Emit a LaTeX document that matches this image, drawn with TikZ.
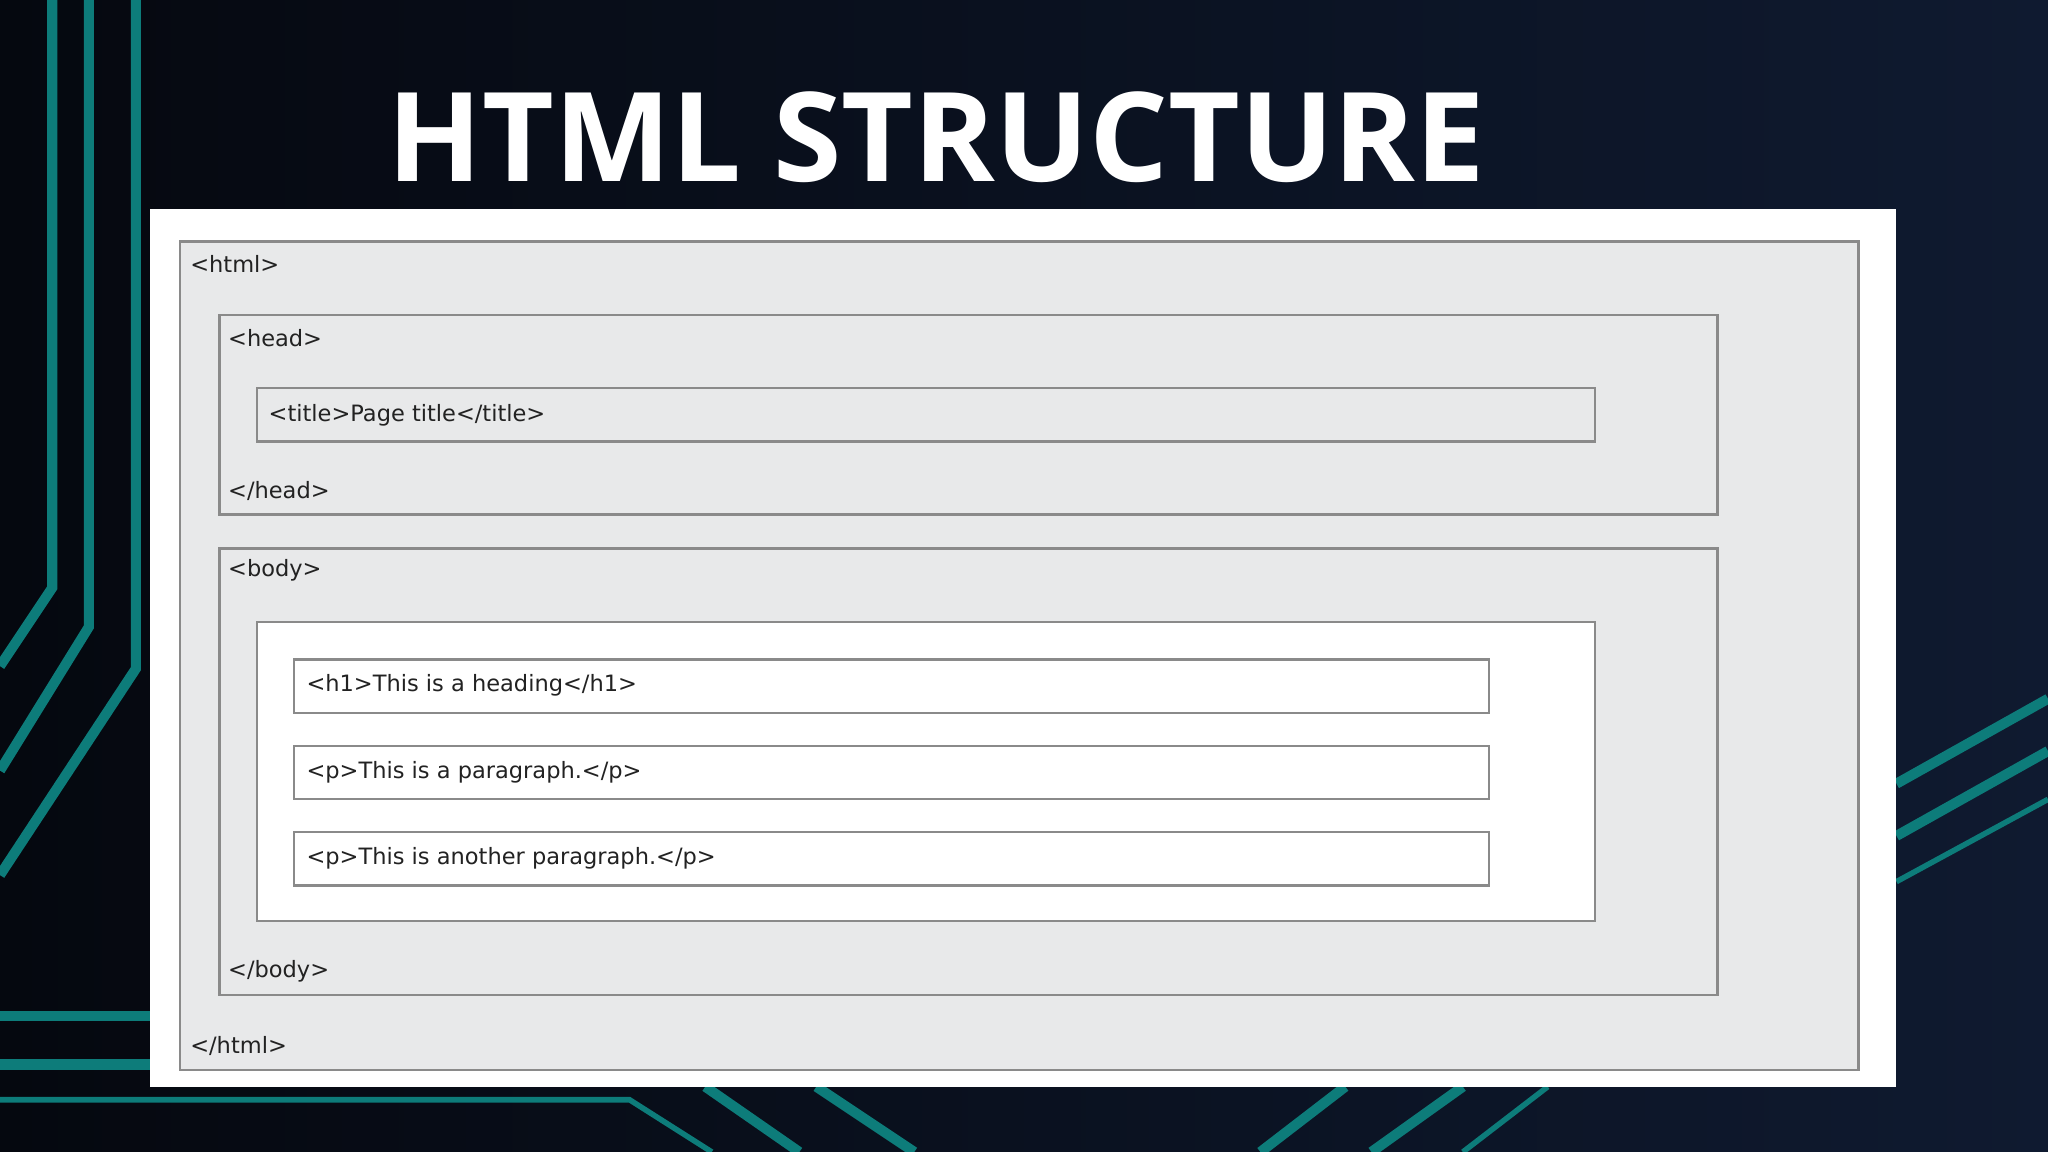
\documentclass[tikz,border=0pt]{standalone}
\usepackage{fontspec}
\newfontfamily\titlefont{Open Sans}
\newfontfamily\codefont{DejaVu Sans}
\definecolor{bgA}{HTML}{05080F}
\definecolor{bgB}{HTML}{0F1A30}
\definecolor{teal}{HTML}{0D7C7A}
\definecolor{boxgrey}{HTML}{E8E9EA}
\definecolor{edge}{HTML}{8A8A8A}
\definecolor{txt}{HTML}{222222}
\tikzset{
 tline/.style={teal,line width=2.2pt},
 gbox/.style={draw=edge,fill=boxgrey,line width=0.5pt},
 wbox/.style={draw=edge,fill=white,line width=0.5pt},
 code/.style={anchor=west,inner sep=0,text=txt,font=\codefont\fontsize{4.9}{6}\selectfont}
}
\begin{document}
\begin{tikzpicture}[x=0.01cm,y=-0.01cm]
\fill[left color=bgA,right color=bgB] (0,0) rectangle (1568,882);
\useasboundingbox (0,0) rectangle (1568,882);
% background lines
\draw[tline] (40,0) -- (40,450) -- (0,510);
\draw[tline] (68,0) -- (68,480) -- (0,590);
\draw[tline] (104,0) -- (104,512) -- (0,670);
\draw[tline] (0,778) -- (115,778);
\draw[tline] (0,815) -- (115,815);
\draw[tline,line width=1.2pt] (0,842) -- (482,842) -- (545,882);
\draw[tline] (540,832) -- (612,882);
\draw[tline] (625,832) -- (700,882);
\draw[tline] (1030,832) -- (965,882);
\draw[tline] (1120,832) -- (1050,882);
\draw[tline,line width=1.2pt] (1185,832) -- (1120,882);
\draw[tline] (1452,600) -- (1568,535);
\draw[tline] (1452,640) -- (1568,575);
\draw[tline,line width=1.2pt] (1452,675) -- (1568,612);
% title
\node[text=white,font=\titlefont\bfseries\fontsize{27}{30}\selectfont,inner sep=0] (title) at (717,105) {HTML STRUCTURE};
% panel
\fill[white] (115,160) rectangle (1452,832);
\draw[gbox] (138,185) rectangle (1423,819);
\draw[gbox] (168,241) rectangle (1315,394);
\draw[gbox] (197,297) rectangle (1221,338);
\draw[gbox] (168,420) rectangle (1315,762);
\draw[wbox] (197,476) rectangle (1221,705);
\draw[wbox] (225,505) rectangle (1140,546);
\draw[wbox] (225,571) rectangle (1140,612);
\draw[wbox] (225,637) rectangle (1140,678);
\node[code] (t1) at (145,202) {<html>};
\node[code] (t2) at (174,259) {<head>};
\node[code] (t3) at (205,318) {<title>Page title</title>};
\node[code] (t4) at (174,376) {</head>};
\node[code] (t5) at (174,437) {<body>};
\node[code] (t6) at (234,525) {<h1>This is a heading</h1>};
\node[code] (t7) at (234,591) {<p>This is a paragraph.</p>};
\node[code] (t8) at (234,657) {<p>This is another paragraph.</p>};
\node[code] (t9) at (174,744) {</body>};
\node[code] (t10) at (145,801) {</html>};
\end{tikzpicture}
\end{document}
